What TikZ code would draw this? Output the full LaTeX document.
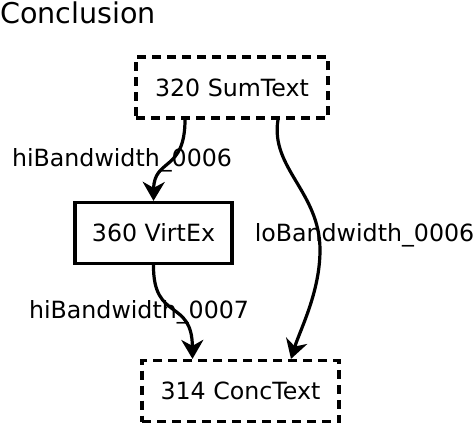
\documentclass[tikz,border=0pt]{standalone}
\usepackage{fontspec}
\setmainfont{DejaVu Sans}
\usetikzlibrary{arrows.meta}
\begin{document}
\begin{tikzpicture}[x=1pt,y=-1pt,
  every node/.style={font=\fontsize{23.7}{28}\selectfont},
  box/.style={draw,line width=3.2pt,inner sep=0pt,text height=17pt,text depth=0pt,minimum height=61pt},
  dbox/.style={box,dash pattern=on 9pt off 6pt},
  lbl/.style={anchor=base,inner sep=0pt},
  conn/.style={line width=3.2pt,-{Stealth[length=19pt,width=22pt,inset=6pt]}}]
\useasboundingbox (0,0) rectangle (474,424);
\node[anchor=base west,inner sep=0pt,font=\fontsize{28.6}{32}\selectfont] (title) at (0,23) {Conclusion};
\node[dbox,minimum width=192pt] (s) at (232,87.5) {320 SumText};
\node[box,minimum width=157pt] (v) at (153.5,233) {360 VirtEx};
\node[dbox,minimum width=197pt] (c) at (240.5,391) {314 ConcText};
\draw[conn] ([xshift=-47pt]s.south) .. controls (185,172) and (154,158) .. (v.north);
\draw[conn] ([xshift=46pt]s.south) .. controls (270,168) and (320,192) .. (320,250) .. controls (320,292) and (300,330) .. ([xshift=50.5pt]c.north);
\draw[conn] (v.south) .. controls (153,322) and (192,298) .. ([xshift=-48pt]c.north);
\node[lbl] (l1) at (122,166) {hiBandwidth\_0006};
\node[lbl] (l2) at (364.5,241) {loBandwidth\_0006};
\node[lbl] (l3) at (139,318) {hiBandwidth\_0007};
\end{tikzpicture}
\end{document}
